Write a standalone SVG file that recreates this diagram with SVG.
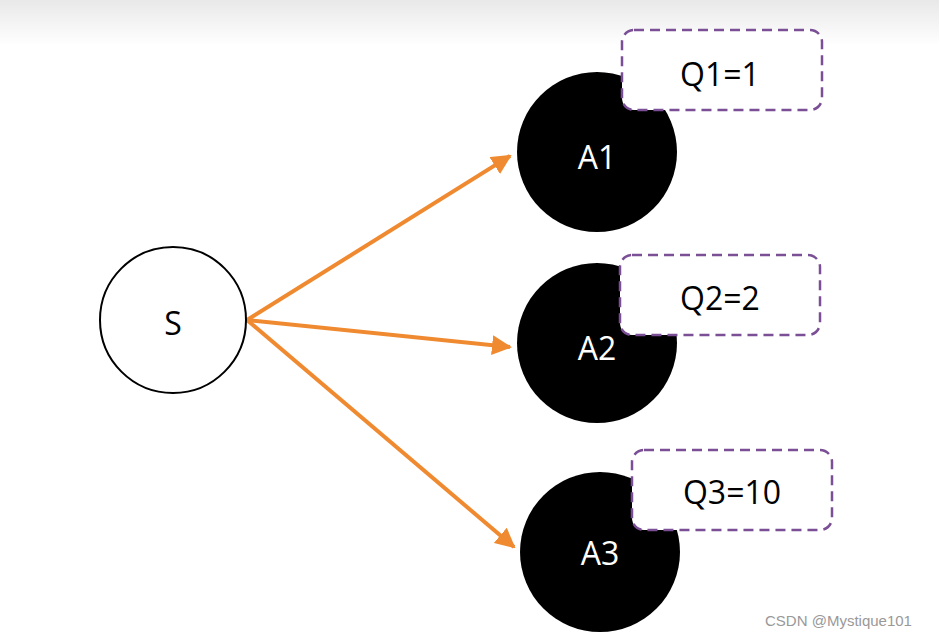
<svg xmlns="http://www.w3.org/2000/svg" width="939" height="639" viewBox="0 0 939 639">
<defs>
<linearGradient id="top" x1="0" y1="0" x2="0" y2="1"><stop offset="0" stop-color="#e8e8e8"/><stop offset="1" stop-color="#ffffff"/></linearGradient>
<marker id="ah" viewBox="0 0 10 10" refX="9" refY="5" markerWidth="5" markerHeight="5" orient="auto"><path d="M0,0 L10,5 L0,10 z" fill="#F08A30"/></marker>
</defs>
<style>
.t{font-family:"Open Sans","Liberation Sans",sans-serif;font-size:32px;text-anchor:middle;dominant-baseline:central}
.q{fill:#fff;stroke:#7a4f96;stroke-width:2.5;stroke-dasharray:10 6}
.c{stroke:#F08A30;stroke-width:4;fill:none;marker-end:url(#ah)}
</style>
<rect width="939" height="639" fill="#fff"/>
<rect width="939" height="45" fill="url(#top)"/>
<g id="connectors">
<line class="c" x1="247" y1="320" x2="510" y2="156"/>
<line class="c" x1="247" y1="320" x2="510" y2="347"/>
<line class="c" x1="247" y1="320" x2="514" y2="547"/>
</g>
<g id="S"><circle cx="173" cy="320" r="73" fill="#fff" stroke="#000" stroke-width="2"/><text class="t" x="173" y="322">S</text></g>
<g id="A1"><circle cx="597" cy="152" r="80"/><text class="t" x="597" y="156" fill="#fff">A1</text></g>
<g id="A2"><circle cx="597" cy="343" r="80"/><text class="t" x="597" y="347" fill="#fff">A2</text></g>
<g id="A3"><circle cx="600" cy="552" r="80"/><text class="t" x="600" y="552" fill="#fff">A3</text></g>
<g id="Q1"><rect class="q" x="622" y="30" width="200" height="80" rx="12"/><text class="t" x="720" y="73">Q1=1</text></g>
<g id="Q2"><rect class="q" x="620" y="255" width="200" height="80" rx="12"/><text class="t" x="720" y="297">Q2=2</text></g>
<g id="Q3"><rect class="q" x="632" y="450" width="200" height="80" rx="12"/><text class="t" x="732" y="491">Q3=10</text></g>
<text x="765" y="626" font-family="Liberation Sans,sans-serif" font-size="15" fill="#999">CSDN @Mystique101</text>
</svg>
